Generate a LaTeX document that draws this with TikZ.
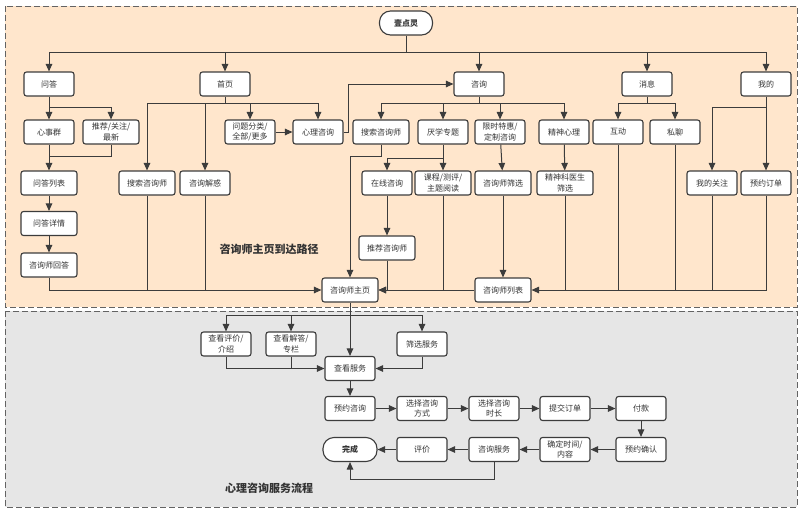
\documentclass[tikz,border=0pt]{standalone}
\usepackage{fontspec}
\setmainfont{Noto Sans CJK SC}
\usetikzlibrary{arrows.meta}
\definecolor{peach}{HTML}{FFE6CC}
\definecolor{greybg}{HTML}{E6E6E6}
\definecolor{linec}{HTML}{3C3C3C}
\definecolor{txt}{HTML}{333333}
\tikzset{
  box/.style={draw=linec, fill=white, rounded corners=2.5pt, line width=1.1pt,
    minimum height=24pt, minimum width=50pt, inner sep=1pt, align=center,
    text=txt, font=\fontsize{8}{10.5}\selectfont},
  wbox/.style={box, minimum width=56pt},
  term/.style={box, rounded corners=11pt, font=\fontsize{8}{10.5}\selectfont\bfseries},
  ln/.style={draw=linec, line width=1pt},
  arr/.style={ln, -{Triangle[length=7.5pt,width=6.5pt]}},
  region/.style={draw=linec!80, line width=0.9pt, dash pattern=on 6pt off 3pt},
  reglabel/.style={font=\fontsize{11}{12}\selectfont\bfseries, text=txt}
}
\begin{document}
\begin{tikzpicture}[x=1pt,y=-1pt]
\useasboundingbox (0,0) rectangle (805,511);
\fill[white] (0,0) rectangle (805,511);
\filldraw[region, fill=peach] (5,6) rectangle (797,307);
\filldraw[region, fill=greybg] (5,311) rectangle (797,507);
\node[reglabel] (lab1) at (269,249) {咨询师主页到达路径};
\node[reglabel] (lab2) at (269,488) {心理咨询服务流程};

% root and row 1
\node[term, minimum width=53pt] (root) at (406,23) {壹点灵};
\node[box] (wenda) at (49,84) {问答};
\node[box] (shouye) at (225,84) {首页};
\node[box] (zixun) at (479,84) {咨询};
\node[box] (xiaoxi) at (647,84) {消息};
\node[box] (wode) at (766,84) {我的};

% row 2
\node[box] (xinshi) at (49,132) {心事群};
\node[wbox] (tuijian) at (111,132) {推荐/关注/\\最新};
\node[box] (wtfl) at (250,132) {问题分类/\\全部/更多};
\node[box] (xlzx) at (318,132) {心理咨询};
\node[wbox] (sszxs2) at (381,132) {搜索咨询师};
\node[box] (yxzt) at (443,132) {厌学专题};
\node[box] (xsth) at (500,132) {限时特惠/\\定制咨询};
\node[box] (jsxl) at (564,132) {精神心理};
\node[box] (hudong) at (618,132) {互动};
\node[box] (siliao) at (675,132) {私聊};

% row 3
\node[wbox] (wdlb) at (49,183) {问答列表};
\node[wbox] (sszxs1) at (147,183) {搜索咨询师};
\node[box] (zxjh) at (205,183) {咨询解惑};
\node[box] (zxzx) at (387,183) {在线咨询};
\node[wbox] (kc) at (443,183) {课程/测评/\\主题阅读};
\node[wbox] (zxssx) at (503,183) {咨询师筛选};
\node[wbox] (jsk) at (565,183) {精神科医生\\筛选};
\node[box] (wdgz) at (712,183) {我的关注};
\node[box] (yydd) at (766,183) {预约订单};

% lower rows of top region
\node[wbox] (wdxq) at (49,223.5) {问答详情};
\node[wbox] (zxshd) at (49,265) {咨询师回答};
\node[wbox] (tjzxs) at (387,248) {推荐咨询师};
\node[wbox] (zxszy) at (350,290) {咨询师主页};
\node[wbox] (zxslb) at (503,290) {咨询师列表};

% bottom region
\node[box] (ckpj) at (226,344) {查看评价/\\介绍};
\node[box] (ckjd) at (291,344) {查看解答/\\专栏};
\node[box] (sxfw) at (422,344) {筛选服务};
\node[box] (ckfw) at (350,368.5) {查看服务};
\node[box] (yyzx) at (350,408.5) {预约咨询};
\node[box] (xzfs) at (422,408.5) {选择咨询\\方式};
\node[box] (xzsc) at (494,408.5) {选择咨询\\时长};
\node[box] (tjdd) at (565,408.5) {提交订单};
\node[box] (fk) at (641,408.5) {付款};
\node[term, minimum width=54pt] (wc) at (350,449.5) {完成};
\node[box] (pj) at (422,449.5) {评价};
\node[box] (zxfw) at (494,449.5) {咨询服务};
\node[box] (qdsj) at (565,449.5) {确定时间/\\内容};
\node[box] (yyqr) at (641,449.5) {预约确认};

% trunk
\draw[ln] (root.south) -- (root.south|-0,53);
\foreach \n in {wenda,shouye,zixun,xiaoxi,wode}
  \draw[arr] (root.south|-0,53) -| (\n.north);

% 问答 branch
\draw[arr] (wenda) -- (xinshi);
\draw[arr] (wenda.south|-0,107) -| (tuijian.north);
\draw[ln] (tuijian.south) |- (xinshi.south|-0,156);
\draw[arr] (xinshi) -- (wdlb);
\draw[arr] (wdlb) -- (wdxq);
\draw[arr] (wdxq) -- (zxshd);
\draw[arr] (zxshd.south) |- (zxszy.west);

% 首页 branch
\draw[ln] (shouye.south) -- (shouye.south|-0,103);
\draw[arr] (shouye.south|-0,103) -| (wtfl.north);
\draw[arr] (shouye.south|-0,103) -| (xlzx.north);
\draw[arr] (shouye.south|-0,103) -| (sszxs1.north);
\draw[arr] (shouye.south|-0,103) -| (zxjh.north);
\draw[arr] (wtfl) -- (xlzx);
\draw[arr] (xlzx.east) -- ++(5,0) |- (zixun.west);
\draw[ln] (sszxs1.south) -- (sszxs1.south|-zxszy.west);
\draw[ln] (zxjh.south) -- (zxjh.south|-zxszy.west);

% 咨询 branch
\draw[ln] (zixun.south) -- (zixun.south|-0,103);
\foreach \n in {sszxs2,yxzt,xsth,jsxl}
  \draw[arr] (zixun.south|-0,103) -| (\n.north);
\draw[arr] (sszxs2.south) -- (sszxs2.south|-0,156) -| (zxszy.north);
\draw[arr] (yxzt) -- (kc);
\draw[arr] (yxzt.south|-0,158) -| (zxzx.north);
\draw[arr] (xsth) -- (zxssx);
\draw[arr] (jsxl) -- (jsk);
\draw[arr] (zxzx) -- (tjzxs);
\draw[arr] (tjzxs.south) |- (zxszy.east);
\draw[ln] (kc.south) -- (kc.south|-zxszy.east);
\draw[arr] (zxslb.west) -- (zxszy.east);
\draw[arr] (zxssx) -- (zxslb);

% 消息 / 我的 branches
\draw[ln] (xiaoxi.south) -- (xiaoxi.south|-0,103);
\draw[arr] (xiaoxi.south|-0,103) -| (hudong.north);
\draw[arr] (xiaoxi.south|-0,103) -| (siliao.north);
\draw[arr] (wode) -- (yydd);
\draw[arr] (wode.south|-0,107) -| (wdgz.north);
\draw[arr] (yydd.south) |- (zxslb.east);
\foreach \n in {jsk,hudong,siliao,wdgz}
  \draw[ln] (\n.south) -- (\n.south|-zxslb.east);

% service flow
\draw[arr] (zxszy) -- (ckfw);
\draw[arr] (zxszy.south|-0,315) -| (ckpj.north);
\draw[arr] (zxszy.south|-0,315) -| (ckjd.north);
\draw[arr] (zxszy.south|-0,315) -| (sxfw.north);
\draw[arr] (ckpj.south) |- (ckfw.west);
\draw[ln] (ckjd.south) -- (ckjd.south|-ckfw.west);
\draw[arr] (sxfw.south) |- (ckfw.east);
\draw[arr] (ckfw) -- (yyzx);
\draw[arr] (yyzx) -- (xzfs);
\draw[arr] (xzfs) -- (xzsc);
\draw[arr] (xzsc) -- (tjdd);
\draw[arr] (tjdd) -- (fk);
\draw[arr] (fk) -- (yyqr);
\draw[arr] (yyqr) -- (qdsj);
\draw[arr] (qdsj) -- (zxfw);
\draw[arr] (zxfw) -- (pj);
\draw[arr] (pj) -- (wc);
\draw[arr] (zxfw.south) -- (zxfw.south|-0,479) -| (wc.south);
\end{tikzpicture}
\end{document}
